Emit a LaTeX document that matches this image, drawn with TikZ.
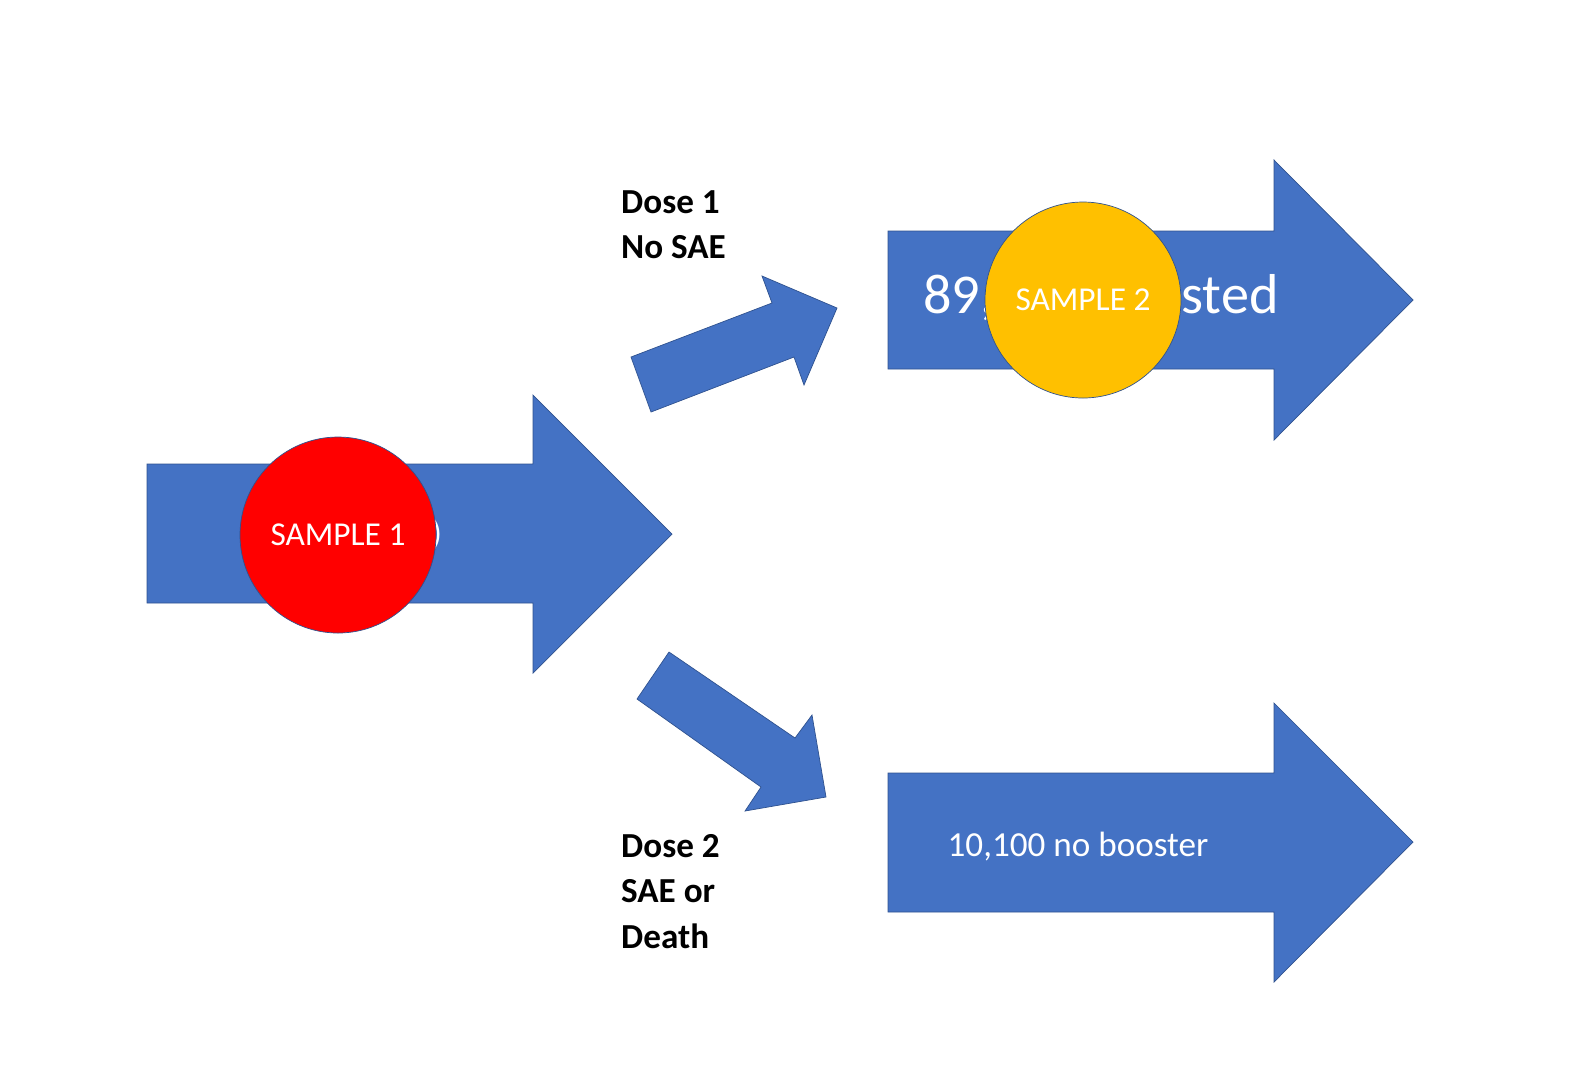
\documentclass[tikz,border=0pt]{standalone}
\usepackage{fontspec}
\setmainfont{Carlito}
\definecolor{flowblue}{HTML}{4472C4}
\definecolor{edgeblue}{HTML}{2F528F}
\definecolor{samplered}{HTML}{FF0000}
\definecolor{sampleyellow}{HTML}{FFC000}
\tikzset{
	flow/.style = {fill = flowblue, draw = edgeblue, thin},
	sample/.style = {circle, draw = edgeblue, thin, minimum size = 196*0.02cm, inner sep = 0pt, text = white, font = \fontsize{19}{21}\selectfont},
	label/.style = {anchor = north west, align = left, font = \bfseries\fontsize{20}{26}\selectfont},
	inner/.style = {text = white}
}
\begin{document}
\begin{tikzpicture}[x = 0.02cm, y = -0.02cm]
	\useasboundingbox (0, 0) rectangle (1574, 1080);
	
	\fill[flow] (147, 464) -- (533, 464) -- (533, 395) -- (672, 534) -- (533, 673) -- (533, 603) -- (147, 603) -- cycle;
	\fill[flow] (888, 231) -- (1274, 231) -- (1274, 160) -- (1413, 300) -- (1274, 440) -- (1274, 369) -- (888, 369) -- cycle;
	\fill[flow] (888, 773) -- (1274, 773) -- (1274, 703) -- (1413, 842) -- (1274, 982) -- (1274, 912) -- (888, 912) -- cycle;
	
	\fill[flow] (631, 357) -- (772, 303) -- (762, 276) -- (837, 308) -- (804, 385) -- (794, 357) -- (651, 412) -- cycle;
	\fill[flow] (669, 652) -- (795, 738) -- (812, 715) -- (826, 797) -- (745, 811) -- (761, 787) -- (637, 699) -- cycle;
	
	\node[inner, font = \fontsize{32}{35}\selectfont] (boosted) at (1101, 298) {89,900 boosted};
	\node[inner, font = \fontsize{19}{21}\selectfont] (close) at (437, 535) {)};
	\node[inner, font = \fontsize{20}{22}\selectfont] (nobooster) at (1078, 847) {10,100 no booster};
	
	\node[sample, fill = samplered] (sample1) at (338, 535) {SAMPLE 1};
	\node[sample, fill = sampleyellow] (sample2) at (1083, 300) {SAMPLE 2};
	
	\node[label] (dose1) at (615, 184) {Dose 1\\No SAE};
	\node[label] (dose2) at (615, 828) {Dose 2\\SAE or\\Death};
\end{tikzpicture}
\end{document}
